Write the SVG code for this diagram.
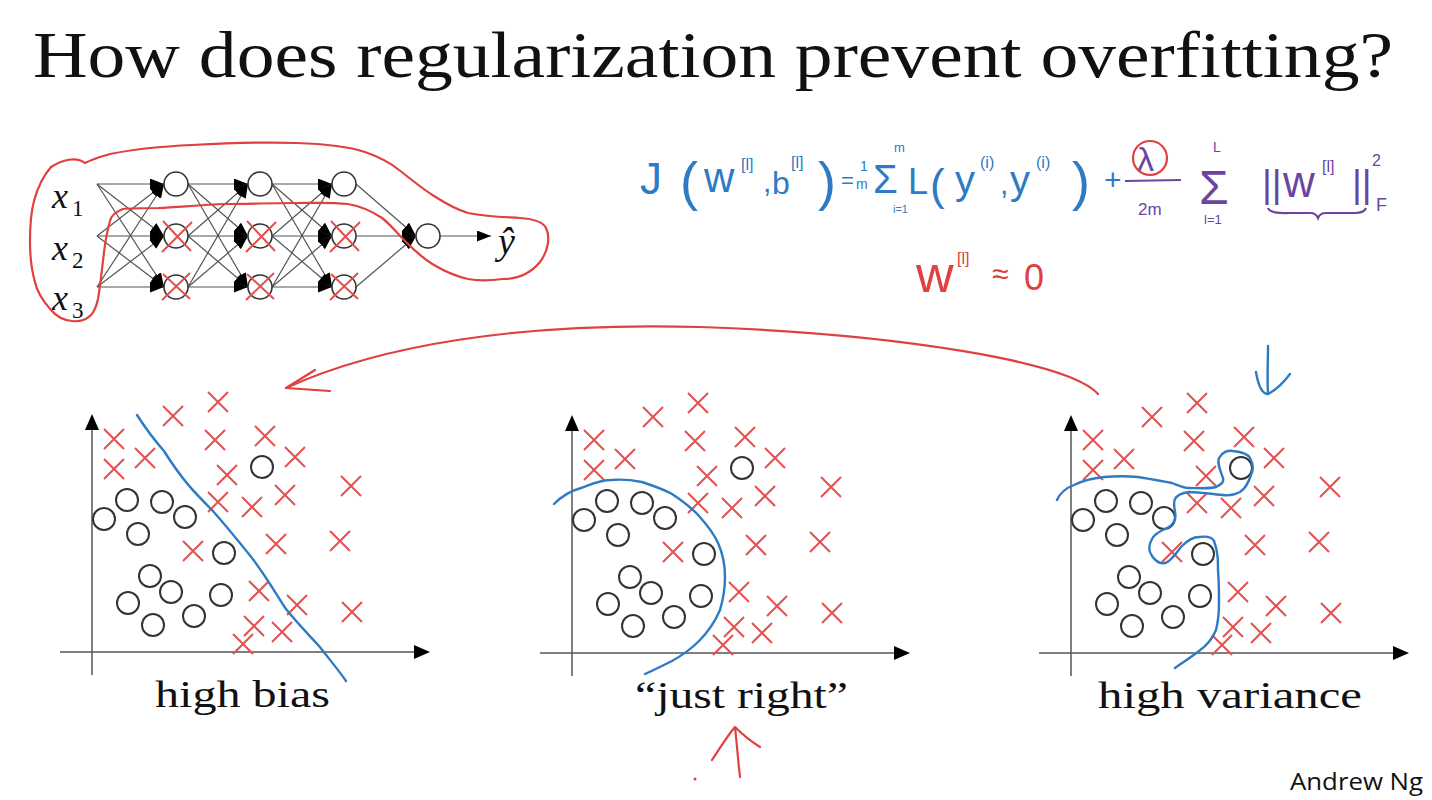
<svg xmlns="http://www.w3.org/2000/svg" xmlns:xlink="http://www.w3.org/1999/xlink" width="1432" height="800" viewBox="0 0 1432 800">
<defs>
<marker id="ah" markerUnits="userSpaceOnUse" markerWidth="16" markerHeight="12" refX="14" refY="5.5" orient="auto">
<path d="M0,0 L14,5.5 L0,11 Z" fill="#000"/>
</marker>
<g id="xm"><path d="M-10,-10 L10,10 M-10,10 L10,-10" stroke="#e2514f" stroke-width="2" fill="none"/></g>
<g id="om"><circle r="11" fill="none" stroke="#333" stroke-width="2"/></g>
<g id="plotdata">
<path d="M92,675 L92,428 M60,652 L416,652" stroke="#555" stroke-width="1.5" fill="none"/>
<path d="M92,414 L85,430 L99,430 Z M430,652 L414,645 L414,659 Z" fill="#000"/>
<use href="#xm" x="114" y="439"/><use href="#xm" x="114" y="469"/><use href="#xm" x="145" y="458"/>
<use href="#xm" x="173" y="416"/><use href="#xm" x="218" y="402"/><use href="#xm" x="215" y="440"/>
<use href="#xm" x="265" y="436"/><use href="#xm" x="295" y="457"/><use href="#xm" x="227" y="475"/>
<use href="#xm" x="218" y="502"/><use href="#xm" x="252" y="507"/><use href="#xm" x="285" y="495"/>
<use href="#xm" x="351" y="486"/><use href="#xm" x="193" y="551"/><use href="#xm" x="276" y="544"/>
<use href="#xm" x="340" y="541"/><use href="#xm" x="259" y="591"/><use href="#xm" x="297" y="605"/>
<use href="#xm" x="352" y="612"/><use href="#xm" x="254" y="626"/><use href="#xm" x="282" y="632"/>
<use href="#xm" x="243" y="644"/>
<use href="#om" x="262" y="467"/><use href="#om" x="127" y="500"/><use href="#om" x="162" y="502"/>
<use href="#om" x="104" y="519"/><use href="#om" x="185" y="517"/><use href="#om" x="138" y="534"/>
<use href="#om" x="224" y="553"/><use href="#om" x="150" y="576"/><use href="#om" x="171" y="592"/>
<use href="#om" x="128" y="603"/><use href="#om" x="221" y="595"/><use href="#om" x="194" y="616"/>
<use href="#om" x="153" y="625"/>
</g>
</defs>
<style>
.ttl{font-family:"Liberation Serif",serif;fill:#111}
.lbl{font-family:"Liberation Serif",serif;font-size:38px;fill:#111}
.na{stroke:#555;stroke-width:1.2;fill:none;marker-end:url(#ah)}
.nd{fill:#fff;stroke:#333;stroke-width:1.6}
.rx{stroke:#e2514f;stroke-width:2;fill:none}
.red{stroke:#e0403f;stroke-width:2.2;fill:none;stroke-linecap:round;stroke-linejoin:round}
.blue{stroke:#2e7bc4;stroke-width:2.4;fill:none;stroke-linecap:round;stroke-linejoin:round}
.fb{font-family:"Liberation Sans",sans-serif;fill:#2e7bc4}
.fp{font-family:"Liberation Sans",sans-serif;fill:#6b45a0}
.fr{font-family:"Liberation Sans",sans-serif;fill:#e0403f}
.xi{font-family:"Liberation Serif",serif;font-style:italic;fill:#111}
.xs{font-family:"Liberation Serif",serif;fill:#111}
</style>
<rect width="1432" height="800" fill="#fff"/>

<g id="title">
<text class="ttl" x="33" y="77" font-size="66" textLength="1360" lengthAdjust="spacingAndGlyphs">How does regularization prevent overfitting?</text>
</g>

<g id="connectors">
<path class="na" d="M97,184 L164,184"/><path class="na" d="M97,184 L164,236"/><path class="na" d="M97,184 L164,287"/>
<path class="na" d="M97,236 L164,184"/><path class="na" d="M97,236 L164,236"/><path class="na" d="M97,236 L164,287"/>
<path class="na" d="M97,287 L164,184"/><path class="na" d="M97,287 L164,236"/><path class="na" d="M97,287 L164,287"/>
<path class="na" d="M188,184 L248,184"/><path class="na" d="M188,184 L248,236"/><path class="na" d="M188,184 L248,287"/>
<path class="na" d="M188,236 L248,184"/><path class="na" d="M188,236 L248,236"/><path class="na" d="M188,236 L248,287"/>
<path class="na" d="M188,287 L248,184"/><path class="na" d="M188,287 L248,236"/><path class="na" d="M188,287 L248,287"/>
<path class="na" d="M272,184 L332,184"/><path class="na" d="M272,184 L332,236"/><path class="na" d="M272,184 L332,287"/>
<path class="na" d="M272,236 L332,184"/><path class="na" d="M272,236 L332,236"/><path class="na" d="M272,236 L332,287"/>
<path class="na" d="M272,287 L332,184"/><path class="na" d="M272,287 L332,236"/><path class="na" d="M272,287 L332,287"/>
<path class="na" d="M356,184 L416,236"/><path class="na" d="M356,236 L416,236"/><path class="na" d="M356,287 L416,236"/>
<path class="na" d="M440,236 L491,236"/>
</g>

<g id="inputs">
<text class="xi" x="52" y="208" font-size="36">x</text><text class="xs" x="72" y="216" font-size="23">1</text>
<text class="xi" x="52" y="260" font-size="36">x</text><text class="xs" x="72" y="268" font-size="23">2</text>
<text class="xi" x="52" y="310" font-size="36">x</text><text class="xs" x="72" y="318" font-size="23">3</text>
</g>
<g id="layer1">
<circle class="nd" cx="176" cy="184" r="12"/><circle class="nd" cx="176" cy="236" r="12"/><circle class="nd" cx="176" cy="287" r="12"/>
</g>
<g id="layer2">
<circle class="nd" cx="260" cy="184" r="12"/><circle class="nd" cx="260" cy="236" r="12"/><circle class="nd" cx="260" cy="287" r="12"/>
</g>
<g id="layer3">
<circle class="nd" cx="344" cy="184" r="12"/><circle class="nd" cx="344" cy="236" r="12"/><circle class="nd" cx="344" cy="287" r="12"/>
</g>
<g id="output">
<circle class="nd" cx="428" cy="236" r="12"/>
<text class="xi" x="498" y="254" font-size="38">ŷ</text>
</g>
<g id="dropouts">
<path class="rx" d="M162,252 L192,222 M163,221 L191,251 M162,300 L190,273 M163,274 L190,299"/>
<path class="rx" d="M246,252 L276,222 M247,221 L275,251 M246,300 L274,273 M247,274 L274,299"/>
<path class="rx" d="M330,252 L360,222 M331,221 L359,251 M330,300 L358,273 M331,274 L358,299"/>
</g>
<g id="outline">
<path class="red" d="M51,167 C62,160 76,156 85,163 C95,158 104,156 110,154 C140,148 170,146 192,145 C230,143 270,142 296,143 C330,144 350,147 365,152 C382,158 392,164 399,170 C412,180 424,190 434,196 C448,205 458,210 468,213 C490,217 505,217 520,218 C535,219 543,222 546,228 C550,236 549,250 540,262 C530,274 516,279 503,279 C488,281 478,281 468,279 C455,276 444,271 434,265 C422,258 414,250 406,242 C396,232 390,224 382,218 C370,210 360,206 348,204 C330,202 310,203 296,203 C270,203 250,204 227,204 C200,205 180,207 158,208 C140,208 130,208 123,209 C115,212 111,216 110,221 C106,235 105,245 104,252 C102,270 100,288 98,299 C96,308 94,312 91,315 C86,320 80,322 72,321 C62,320 56,316 51,310 C42,300 37,292 35,282 C31,268 30,256 30,242 C30,228 31,212 34,201 C38,186 44,175 51,167 Z"/>
</g>

<g id="formula">
<text class="fb" x="640" y="194" font-size="44">J</text>
<text class="fb" x="680" y="200" font-size="54">(</text>
<text class="fb" x="704" y="192" font-size="42">w</text>
<text class="fb" x="741" y="170" font-size="16">[l]</text>
<text class="fb" x="763" y="192" font-size="30">,</text>
<text class="fb" x="772" y="194" font-size="32">b</text>
<text class="fb" x="791" y="168" font-size="16">[l]</text>
<text class="fb" x="818" y="200" font-size="54">)</text>
<text class="fb" x="841" y="188" font-size="22">=</text>
<text class="fb" x="860" y="171" font-size="14">1</text>
<text class="fb" x="856" y="189" font-size="14">m</text>
<text class="fb" x="873" y="193" font-size="40">Σ</text>
<text class="fb" x="894" y="152" font-size="13">m</text>
<text class="fb" x="893" y="213" font-size="11">i=1</text>
<text class="fb" x="908" y="194" font-size="36">L</text>
<text class="fb" x="930" y="200" font-size="44">(</text>
<text class="fb" x="955" y="194" font-size="40">y</text>
<text class="fb" x="980" y="168" font-size="16">(i)</text>
<text class="fb" x="1000" y="194" font-size="30">,</text>
<text class="fb" x="1010" y="194" font-size="40">y</text>
<text class="fb" x="1036" y="168" font-size="16">(i)</text>
<text class="fb" x="1072" y="200" font-size="54">)</text>
<text class="fb" x="1104" y="190" font-size="30">+</text>
<text class="fp" x="1137" y="171" font-size="34">λ</text>
<ellipse cx="1150" cy="158" rx="17" ry="17" fill="none" stroke="#e0403f" stroke-width="2.2"/>
<path d="M1125,181 L1181,180" stroke="#6b45a0" stroke-width="2.2" fill="none"/>
<text class="fp" x="1138" y="215" font-size="17">2m</text>
<text class="fp" x="1199" y="204" font-size="48">Σ</text>
<text class="fp" x="1213" y="152" font-size="14">L</text>
<text class="fp" x="1204" y="224" font-size="13">l=1</text>
<text class="fp" x="1262" y="197" font-size="38">||</text>
<text class="fp" x="1283" y="197" font-size="44">w</text>
<text class="fp" x="1322" y="172" font-size="16">[l]</text>
<text class="fp" x="1352" y="197" font-size="38">||</text>
<text class="fp" x="1372" y="166" font-size="16">2</text>
<text class="fp" x="1376" y="211" font-size="18">F</text>
<path d="M1268,208 Q1270,214 1290,213 L1310,213 Q1316,213 1318,218 Q1320,213 1326,213 L1355,213 Q1364,213 1366,208" stroke="#6b45a0" stroke-width="2.2" fill="none"/>
</g>
<g id="approx">
<text class="fr" x="916" y="292" font-size="52">w</text>
<text class="fr" x="957" y="264" font-size="16">[l]</text>
<text class="fr" x="992" y="284" font-size="30">≈</text>
<text class="fr" x="1024" y="290" font-size="36">0</text>
</g>

<g id="plot-high-bias">
<use href="#plotdata"/>
<path class="blue" d="M137,415 C148,432 156,442 164,451 C182,480 196,494 212,510 C228,528 240,543 252,558 C266,576 276,594 286,609 C298,624 310,636 319,646 C330,660 340,672 346,681"/>
<text class="lbl" x="155" y="707" textLength="175" lengthAdjust="spacingAndGlyphs">high bias</text>
</g>
<g id="plot-just-right">
<use href="#plotdata" transform="translate(480,1)"/>
<path class="blue" d="M554,504 C562,496 570,491 581,488 C592,484 600,480 611,480 C622,479 632,480 642,482 C654,486 663,489 672,494 C684,502 692,508 699,516 C708,526 714,534 718,543 C723,554 725,566 725,577 C725,590 723,600 720,610 C714,624 707,633 699,641 C690,650 681,656 672,661 C662,666 654,670 645,674"/>
<text class="lbl" x="635" y="708" textLength="213" lengthAdjust="spacingAndGlyphs">“just right”</text>
</g>
<g id="plot-high-variance">
<use href="#plotdata" transform="translate(979,1)"/>
<path class="blue" d="M1057,500 C1060,493 1066,488 1074,485 C1084,480 1094,478 1104,477 C1116,476 1128,476 1138,477 C1150,479 1162,481 1172,483 C1180,486 1184,488 1189,488 C1200,488 1210,489 1216,487 C1222,484 1224,482 1223,478 C1220,470 1217,463 1219,458 C1222,452 1228,450 1233,451 C1242,452 1248,454 1250,458 C1254,465 1253,471 1251,475 C1248,484 1245,489 1240,492 C1234,495 1228,496 1223,495 C1210,494 1200,492 1189,492 C1182,493 1177,495 1175,499 C1172,506 1177,513 1175,519 C1173,525 1170,527 1165,529 C1158,532 1154,535 1152,539 C1148,546 1149,552 1152,556 C1156,562 1160,564 1165,563 C1172,561 1177,551 1182,546 C1188,540 1193,537 1199,537 C1206,536 1212,537 1214,541 C1218,552 1218,560 1218,570 C1219,582 1219,592 1219,603 C1219,614 1218,622 1216,630 C1212,640 1206,646 1199,651 C1190,658 1182,663 1175,668"/>
<text class="lbl" x="1098" y="708" textLength="264" lengthAdjust="spacingAndGlyphs">high variance</text>
</g>

<g id="annotations">
<path class="red" d="M1098,394 C1070,362 900,334 700,327 C520,322 380,345 286,388"/>
<path class="red" d="M315,370 L286,388 L330,391"/>
<path class="blue" d="M1268,346 C1268,362 1267,378 1268,392 M1256,372 C1258,384 1262,394 1268,394 C1276,390 1284,382 1290,374"/>
<path class="red" d="M740,777 C738,760 737,745 735,727 M712,760 C720,748 728,735 735,727 C743,735 752,742 760,747"/>
<circle cx="695" cy="779" r="1.5" fill="#e0403f"/>
</g>

<g id="credit">
<text x="1290" y="790" font-family="'Open Sans','Liberation Sans',sans-serif" font-size="23" fill="#111" textLength="133" lengthAdjust="spacingAndGlyphs">Andrew Ng</text>
</g>
</svg>
